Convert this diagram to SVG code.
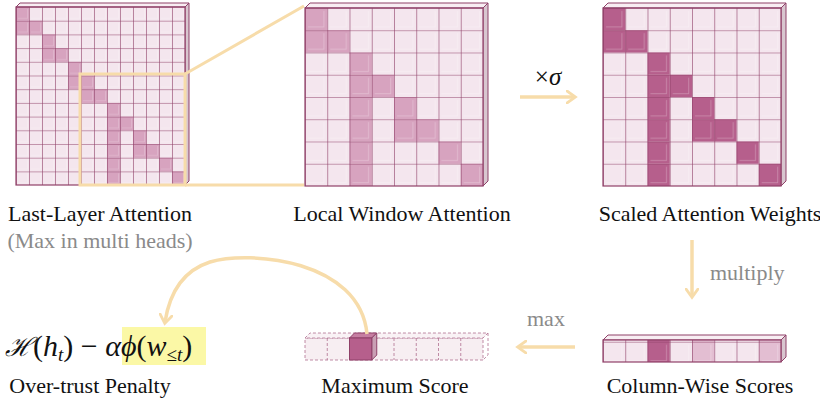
<svg xmlns="http://www.w3.org/2000/svg" width="820" height="405" viewBox="0 0 820 405">
<style>
.base{fill:#f4e6ee}
.top{fill:#f8eef3;stroke:#8f4068;stroke-width:1}
.side{fill:#d8c6cf;stroke:#8f4068;stroke-width:1}
.m{fill:#d7a3bf}
.d{fill:#b65f8c}
.out{fill:none;stroke:#8f4068;stroke-width:1.2}
.arr{fill:none;stroke:#f7dcaa;stroke-width:3.5}
.win{fill:none;stroke:#f7dcaa;stroke-width:3}
</style>
<defs>
<pattern id="p1" patternUnits="userSpaceOnUse" x="16" y="7" width="13" height="13.7"><path d="M0 0H13M0 0V13.7" stroke="#8f4068" stroke-width="1.2" fill="none"/><path d="M2 11.5H11.5V2" stroke="#ffffff" stroke-opacity="0.3" stroke-width="0.6" fill="none"/></pattern>
<pattern id="p2" patternUnits="userSpaceOnUse" x="305" y="8" width="22.25" height="22.25"><path d="M0 0H22.25M0 0V22.25" stroke="#8f4068" stroke-width="1.2" fill="none"/><path d="M3 19H19V3" stroke="#ffffff" stroke-opacity="0.3" stroke-width="0.8" fill="none"/></pattern>
<pattern id="p3" patternUnits="userSpaceOnUse" x="603" y="8" width="22.25" height="22.25"><path d="M0 0H22.25M0 0V22.25" stroke="#8f4068" stroke-width="1.2" fill="none"/><path d="M3 19H19V3" stroke="#ffffff" stroke-opacity="0.3" stroke-width="0.8" fill="none"/></pattern>
<marker id="ah" viewBox="0 0 10 10" refX="6" refY="5" markerWidth="4" markerHeight="4" orient="auto"><path d="M0 0L7 5L0 10" fill="none" stroke="#f7dcaa" stroke-width="2"/></marker>
</defs>

<g id="last-layer-attention">
<polygon class="top" points="16,7 20,3 189,3 185,7"/>
<polygon class="side" points="185,7 189,3 189,181 185,185"/>
<rect class="base" x="16" y="7" width="169" height="178"/>
<g class="m">
<rect x="16" y="7" width="13" height="13.7"/><rect x="16" y="20.7" width="13" height="13.7"/><rect x="29" y="20.7" width="13" height="13.7"/>
<rect x="42" y="34.4" width="13" height="13.7"/><rect x="42" y="48.1" width="13" height="13.7"/><rect x="55" y="48.1" width="13" height="13.7"/>
<rect x="68" y="61.8" width="13" height="13.7"/><rect x="68" y="75.5" width="13" height="13.7"/><rect x="81" y="75.5" width="13" height="13.7"/>
<rect x="81" y="89.2" width="13" height="13.7"/><rect x="94" y="89.2" width="13" height="13.7"/>
<rect x="107" y="102.9" width="13" height="13.7"/><rect x="107" y="116.6" width="13" height="13.7"/><rect x="120" y="116.6" width="13" height="13.7"/>
<rect x="107" y="130.3" width="13" height="13.7"/><rect x="133" y="130.3" width="13" height="13.7"/>
<rect x="107" y="144" width="13" height="13.7"/><rect x="133" y="144" width="13" height="13.7"/><rect x="146" y="144" width="13" height="13.7"/>
<rect x="107" y="157.7" width="13" height="13.7"/><rect x="159" y="157.7" width="13" height="13.7"/>
<rect x="107" y="171.4" width="13" height="13.7"/><rect x="172" y="171.4" width="13" height="13.7"/>
</g>
<rect x="16" y="7" width="169" height="178" fill="url(#p1)"/>
<rect class="out" x="16" y="7" width="169" height="178"/>
<text x="100" y="221" style="font-family:'Liberation Serif',serif;font-size:22px;fill:#111;text-anchor:middle">Last-Layer Attention</text>
<text x="100" y="248" style="font-family:'Liberation Serif',serif;font-size:22px;fill:#8a8a8a;text-anchor:middle">(Max in multi heads)</text>
</g>

<g id="window">
<rect class="win" x="80" y="74" width="105" height="111"/>
<path class="win" d="M185 74L304 6M185 185H304"/>
</g>

<g id="local-window-attention">
<polygon class="top" points="305,8 310,3 488,3 483,8"/>
<polygon class="side" points="483,8 488,3 488,181 483,186"/>
<rect class="base" x="305" y="8" width="178" height="178"/>
<g class="m">
<rect x="305" y="8" width="22.25" height="22.25"/><rect x="305" y="30.25" width="22.25" height="22.25"/><rect x="327.25" y="30.25" width="22.25" height="22.25"/>
<rect x="349.5" y="52.5" width="22.25" height="22.25"/><rect x="349.5" y="74.75" width="22.25" height="22.25"/><rect x="371.75" y="74.75" width="22.25" height="22.25"/>
<rect x="349.5" y="97" width="22.25" height="22.25"/><rect x="394" y="97" width="22.25" height="22.25"/>
<rect x="349.5" y="119.25" width="22.25" height="22.25"/><rect x="394" y="119.25" width="22.25" height="22.25"/><rect x="416.25" y="119.25" width="22.25" height="22.25"/>
<rect x="349.5" y="141.5" width="22.25" height="22.25"/><rect x="438.5" y="141.5" width="22.25" height="22.25"/>
<rect x="349.5" y="163.75" width="22.25" height="22.25"/><rect x="460.75" y="163.75" width="22.25" height="22.25"/>
</g>
<rect x="305" y="8" width="178" height="178" fill="url(#p2)"/>
<rect class="out" x="305" y="8" width="178" height="178"/>
<text x="402" y="221" style="font-family:'Liberation Serif',serif;font-size:22px;fill:#111;text-anchor:middle">Local Window Attention</text>
</g>

<g id="scaled-attention-weights">
<polygon class="top" points="603,8 608,3 786,3 781,8"/>
<polygon class="side" points="781,8 786,3 786,181 781,186"/>
<rect class="base" x="603" y="8" width="178" height="178"/>
<g class="d">
<rect x="603" y="8" width="22.25" height="22.25"/><rect x="603" y="30.25" width="22.25" height="22.25"/><rect x="625.25" y="30.25" width="22.25" height="22.25"/>
<rect x="647.5" y="52.5" width="22.25" height="22.25"/><rect x="647.5" y="74.75" width="22.25" height="22.25"/><rect x="669.75" y="74.75" width="22.25" height="22.25"/>
<rect x="647.5" y="97" width="22.25" height="22.25"/><rect x="692" y="97" width="22.25" height="22.25"/>
<rect x="647.5" y="119.25" width="22.25" height="22.25"/><rect x="692" y="119.25" width="22.25" height="22.25"/><rect x="714.25" y="119.25" width="22.25" height="22.25"/>
<rect x="647.5" y="141.5" width="22.25" height="22.25"/><rect x="736.5" y="141.5" width="22.25" height="22.25"/>
<rect x="647.5" y="163.75" width="22.25" height="22.25"/><rect x="758.75" y="163.75" width="22.25" height="22.25"/>
</g>
<rect x="603" y="8" width="178" height="178" fill="url(#p3)"/>
<rect class="out" x="603" y="8" width="178" height="178"/>
<text x="710" y="221" style="font-family:'Liberation Serif',serif;font-size:22px;fill:#111;text-anchor:middle">Scaled Attention Weights</text>
</g>

<g id="column-wise-scores">
<polygon class="top" points="603,340 608,335 786,335 781,340"/>
<polygon class="side" points="781,340 786,335 786,357 781,362"/>
<rect class="base" x="603" y="340" width="178" height="22"/>
<rect class="d" x="647.5" y="340" width="22.25" height="22"/>
<rect class="m" x="692" y="340" width="22.25" height="22" opacity="0.6"/>
<rect class="m" x="758.75" y="340" width="22.25" height="22" opacity="0.6"/>
<rect x="603" y="340" width="178" height="22" fill="url(#p3)"/>
<rect class="out" x="603" y="340" width="178" height="22"/>
<text x="700" y="393" style="font-family:'Liberation Serif',serif;font-size:22px;fill:#111;text-anchor:middle">Column-Wise Scores</text>
</g>

<g id="maximum-score">
<rect x="305" y="338" width="178" height="22" fill="#f7eef2" stroke="#b07090" stroke-width="0.8" stroke-dasharray="3,2"/>
<polygon points="305,338 310,333 488,333 483,338" fill="#f9f2f5" stroke="#b07090" stroke-width="0.8" stroke-dasharray="3,2"/>
<path d="M327.25 338V360M371.75 338V360M394 338V360M416.25 338V360M438.5 338V360M460.75 338V360M488 333V355L483 360" fill="none" stroke="#b07090" stroke-width="0.8" stroke-dasharray="3,2"/>
<polygon points="349.5,338 354.5,333 376.75,333 371.75,338" fill="#c67ea2" stroke="#8f4068"/>
<polygon points="371.75,338 376.75,333 376.75,355 371.75,360" fill="#c99fb4" stroke="#8f4068"/>
<rect x="349.5" y="338" width="22.25" height="22" fill="#b65f8c" stroke="#8f4068"/>
<text x="395" y="393" style="font-family:'Liberation Serif',serif;font-size:22px;fill:#111;text-anchor:middle">Maximum Score</text>
</g>

<g id="over-trust-penalty">
<rect x="122" y="327" width="84" height="38" fill="#fbf8a6"/>
<text x="5" y="356" style="font-family:'Liberation Serif',serif;font-size:30px;fill:#111"><tspan style="font-family:'DejaVu Serif',serif;font-style:italic;font-size:26px">ℋ</tspan>(<tspan style="font-style:italic">h</tspan><tspan style="font-style:italic;font-size:19px" dy="5">t</tspan><tspan dy="-5">) − </tspan><tspan style="font-style:italic">αϕ</tspan>(<tspan style="font-style:italic">w</tspan><tspan style="font-size:19px" dy="5">≤</tspan><tspan style="font-style:italic;font-size:19px">t</tspan><tspan dy="-5">)</tspan></text>
<text x="90" y="393" style="font-family:'Liberation Serif',serif;font-size:22px;fill:#111;text-anchor:middle">Over-trust Penalty</text>
</g>

<g id="connectors">
<path class="arr" d="M520 97H574" marker-end="url(#ah)"/>
<text x="548" y="85" style="font-family:'Liberation Serif',serif;font-size:25px;fill:#111;text-anchor:middle">×<tspan style="font-style:italic">σ</tspan></text>
<path class="arr" d="M692 240V296" marker-end="url(#ah)"/>
<text x="710" y="280" style="font-family:'Liberation Serif',serif;font-size:22px;fill:#8a8a8a">multiply</text>
<path class="arr" d="M575 347H519" marker-end="url(#ah)"/>
<text x="527" y="326" style="font-family:'Liberation Serif',serif;font-size:22px;fill:#8a8a8a">max</text>
<path class="arr" d="M367 334C360 260 250 250 210 262C185 270 170 290 165 322" marker-end="url(#ah)"/>
</g>
</svg>
